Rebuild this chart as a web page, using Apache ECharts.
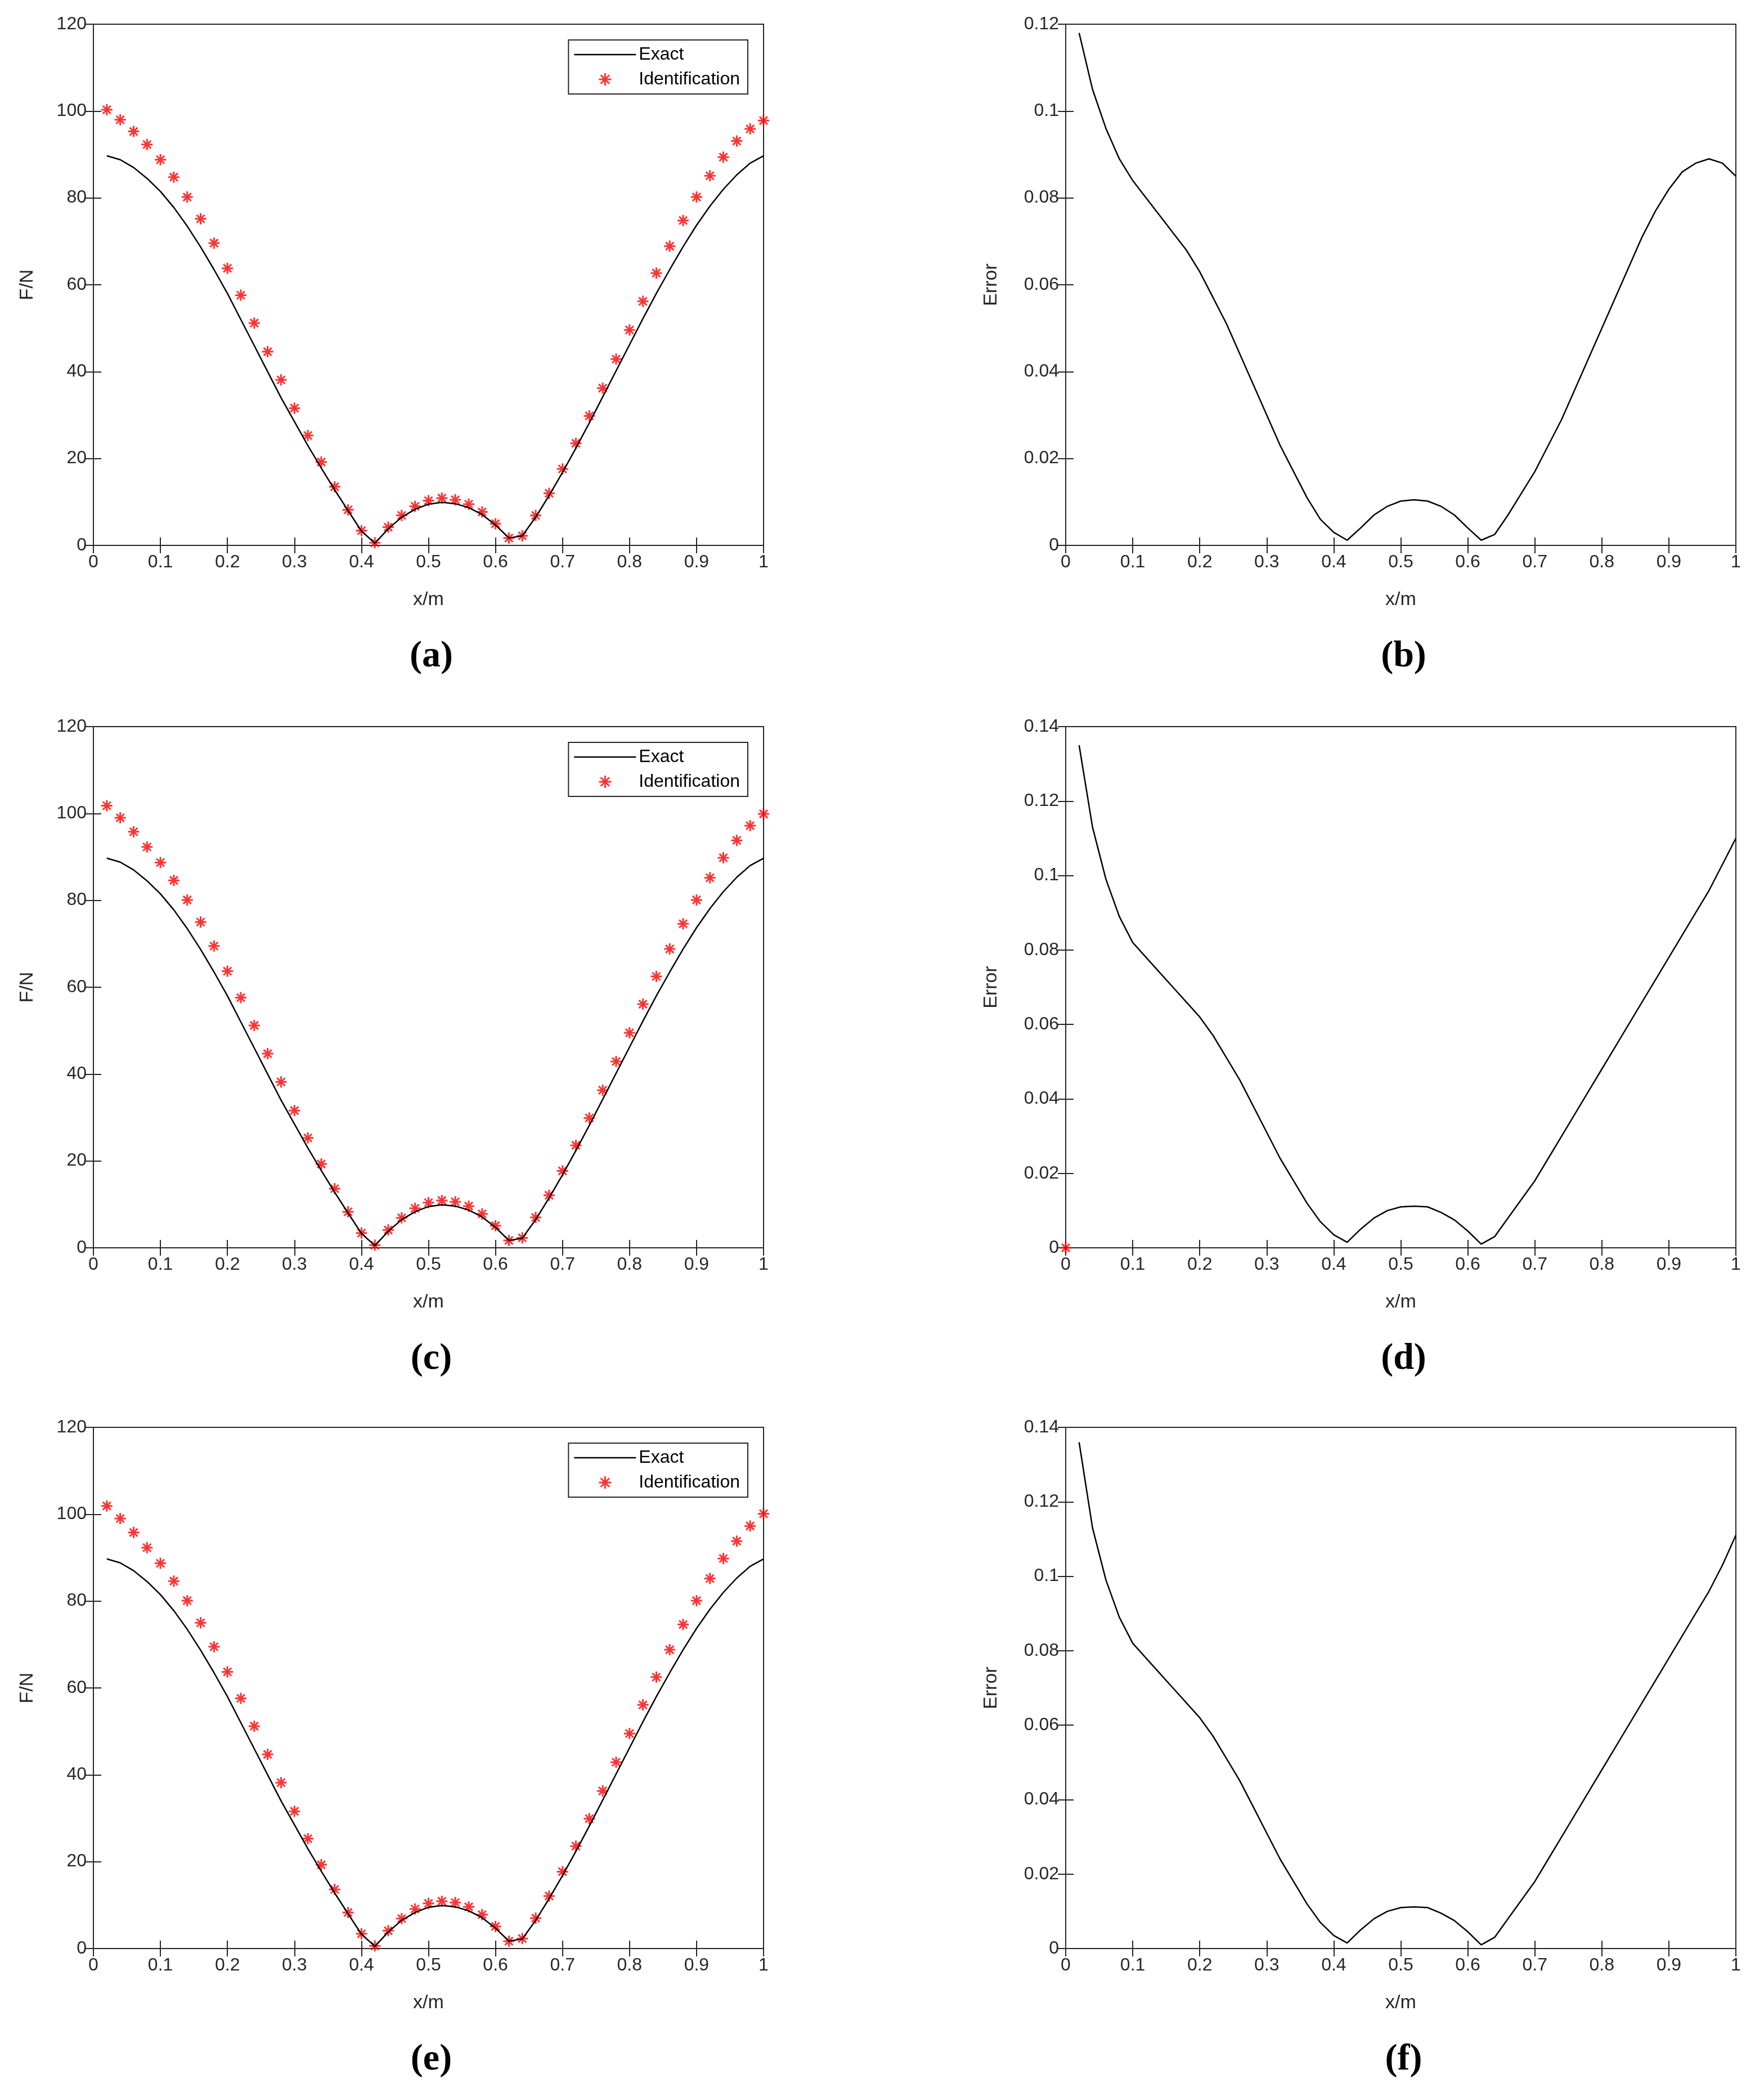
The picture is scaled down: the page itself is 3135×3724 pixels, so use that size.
<!DOCTYPE html>
<html style="height: 100%">
<head>
<meta charset="utf-8">
</head>
<body style="height: 100%; margin: 0; background: #fff">
<div id="container" style="width: 3135px; height: 3724px"></div>
<script type="text/javascript" src="https://cdn.jsdelivr.net/npm/echarts@6/dist/echarts.min.js"></script>
<script type="text/javascript">
// positions x = 0.02 ... 1.00
var xPos = [];
for (var i = 1; i <= 50; i++) xPos.push(+(i * 0.02).toFixed(2));

var exactF = [89.7, 88.8, 87, 84.5, 81.5, 77.8, 73.5, 68.7, 63.5, 58, 52, 46, 40, 34, 28.5, 23, 17.8, 12.8, 8, 3.3,
  0.5, 3.8, 6.5, 8.3, 9.5, 9.9, 9.6, 8.7, 7.1, 4.7, 1.7, 2.2, 6.5, 11.5, 16.8, 22.4, 28.2, 34.2, 40.2, 46.2,
  52.2, 58, 63.5, 68.8, 73.7, 78.1, 82, 85.3, 88, 89.7];

var identA = [100.3, 98, 95.3, 92.3, 88.8, 84.8, 80.2, 75.2, 69.6, 63.8, 57.6, 51.2, 44.6, 38.1, 31.6, 25.3, 19.2, 13.5, 8.2, 3.4,
  0.6, 4.2, 6.9, 9, 10.3, 10.9, 10.5, 9.5, 7.7, 5, 1.7, 2.2, 6.9, 12, 17.6, 23.5, 29.8, 36.2, 42.9, 49.6,
  56.2, 62.7, 68.9, 74.8, 80.2, 85.1, 89.4, 93.1, 95.9, 97.8];
var identC = [101.8, 99, 95.8, 92.3, 88.7, 84.6, 80.1, 75, 69.5, 63.7, 57.6, 51.2, 44.7, 38.2, 31.6, 25.3, 19.3, 13.6, 8.3, 3.4,
  0.6, 4.1, 6.9, 9.1, 10.4, 10.9, 10.6, 9.6, 7.8, 5.1, 1.7, 2.3, 7, 12.1, 17.7, 23.6, 29.9, 36.3, 42.9, 49.5,
  56.1, 62.5, 68.8, 74.6, 80.1, 85.2, 89.8, 93.8, 97.2, 99.9];
var identE = [101.9, 99, 95.8, 92.3, 88.7, 84.6, 80.1, 75, 69.5, 63.7, 57.6, 51.2, 44.7, 38.2, 31.6, 25.3, 19.3, 13.6, 8.3, 3.4,
  0.6, 4.1, 6.9, 9.1, 10.4, 10.9, 10.6, 9.6, 7.8, 5.1, 1.7, 2.3, 7, 12.1, 17.7, 23.6, 29.9, 36.3, 42.9, 49.5,
  56.1, 62.5, 68.8, 74.6, 80.1, 85.2, 89.8, 93.8, 97.3, 100.1];

var errB = [0.118, 0.105, 0.096, 0.089, 0.084, 0.080, 0.076, 0.072, 0.068, 0.063, 0.057, 0.051, 0.044, 0.037, 0.030, 0.023, 0.017, 0.011, 0.006, 0.003,
  0.0012, 0.004, 0.007, 0.009, 0.0102, 0.0105, 0.0102, 0.009, 0.007, 0.004, 0.0012, 0.0025, 0.007, 0.012, 0.017, 0.023, 0.029, 0.036, 0.043, 0.050,
  0.057, 0.064, 0.071, 0.077, 0.082, 0.086, 0.088, 0.089, 0.088, 0.085];
var errD = [0.135, 0.113, 0.099, 0.089, 0.082, 0.078, 0.074, 0.070, 0.066, 0.062, 0.057, 0.051, 0.045, 0.038, 0.031, 0.024, 0.018, 0.012, 0.007, 0.0035,
  0.0015, 0.005, 0.008, 0.010, 0.011, 0.0112, 0.011, 0.0095, 0.0075, 0.0045, 0.001, 0.003, 0.008, 0.013, 0.018, 0.024, 0.030, 0.036, 0.042, 0.048,
  0.054, 0.060, 0.066, 0.072, 0.078, 0.084, 0.090, 0.096, 0.103, 0.110];
var errF = [0.136, 0.113, 0.099, 0.089, 0.082, 0.078, 0.074, 0.070, 0.066, 0.062, 0.057, 0.051, 0.045, 0.038, 0.031, 0.024, 0.018, 0.012, 0.007, 0.0035,
  0.0015, 0.005, 0.008, 0.010, 0.011, 0.0112, 0.011, 0.0095, 0.0075, 0.0045, 0.001, 0.003, 0.008, 0.013, 0.018, 0.024, 0.030, 0.036, 0.042, 0.048,
  0.054, 0.060, 0.066, 0.072, 0.078, 0.084, 0.090, 0.096, 0.103, 0.111];

var panelLetters = ['a', 'b', 'c', 'd', 'e', 'f'];
var colLeft = [166, 1894], colW = 1191;
var rowTop = [43, 1291, 2536], rowH = 926;

var font = 'Liberation Sans';
var star = 'path://M0,-10L0,10M-10,0L10,0M-7,-7L7,7M-7,7L7,-7';

function pairs(ys) {
  return xPos.map(function (x, k) { return [x, ys[k]]; });
}

var grid = [], xAxis = [], yAxis = [], series = [], title = [], legend = [];
var panels = [
  {force: true, ident: identA, ymax: 120, yint: 20},
  {force: false, err: errB, ymax: 0.12, yint: 0.02},
  {force: true, ident: identC, ymax: 120, yint: 20},
  {force: false, err: errD, ymax: 0.14, yint: 0.02, zeroStar: true},
  {force: true, ident: identE, ymax: 120, yint: 20},
  {force: false, err: errF, ymax: 0.14, yint: 0.02}
];

panels.forEach(function (p, k) {
  var col = k % 2, row = Math.floor(k / 2);
  var left = colLeft[col], top = rowTop[row];
  grid.push({left: left, top: top, width: colW, height: rowH, show: true, borderColor: '#262626', borderWidth: 2, backgroundColor: '#fff'});
  var tick = {show: true, inside: true, length: 14, lineStyle: {color: '#262626', width: 2}};
  xAxis.push({type: 'value', gridIndex: k, min: 0, max: 1, interval: 0.1, position: 'bottom',
    name: 'x/m', nameLocation: 'middle', nameGap: 80, nameTextStyle: {fontFamily: font, fontSize: 34, color: '#262626'},
    axisLine: {show: false}, axisTick: tick, splitLine: {show: false},
    axisLabel: {fontFamily: font, fontSize: 32, color: '#262626', margin: 14}});
  xAxis.push({type: 'value', gridIndex: k, min: 0, max: 1, interval: 0.1, position: 'top',
    axisLine: {show: false}, axisTick: tick, splitLine: {show: false}, axisLabel: {show: false}});
  yAxis.push({type: 'value', gridIndex: k, min: 0, max: p.ymax, interval: p.yint, position: 'left',
    name: p.force ? 'F/N' : 'Error', nameLocation: 'middle', nameGap: p.force ? 100 : 115,
    nameTextStyle: {fontFamily: font, fontSize: 34, color: '#262626'},
    axisLine: {show: false}, axisTick: tick, splitLine: {show: false},
    axisLabel: {fontFamily: font, fontSize: 32, color: '#262626', margin: 12}});
  yAxis.push({type: 'value', gridIndex: k, min: 0, max: p.ymax, interval: p.yint, position: 'right',
    axisLine: {show: false}, axisTick: tick, splitLine: {show: false}, axisLabel: {show: false}});

  if (p.force) {
    series.push({name: 'Exact', type: 'line', xAxisIndex: 2 * k, yAxisIndex: 2 * k, data: pairs(exactF),
      showSymbol: false, symbol: 'none', lineStyle: {color: '#000', width: 2.5}, animation: false});
    series.push({name: 'Identification', type: 'scatter', xAxisIndex: 2 * k, yAxisIndex: 2 * k, data: pairs(p.ident),
      symbol: star, symbolSize: 20, itemStyle: {color: 'none', borderColor: '#ff0000', borderWidth: 3}, animation: false});
    legend.push({
      right: 3135 - (left + colW) + 28, top: top + 28,
      orient: 'vertical', itemGap: 12, itemWidth: 110, itemHeight: 22,
      backgroundColor: '#fff', borderColor: '#262626', borderWidth: 2, padding: [10, 14, 10, 10],
      textStyle: {fontFamily: font, fontSize: 32, color: '#000'},
      data: [
        {name: 'Exact', icon: 'path://M0,0L110,0L110,2.5L0,2.5Z', itemStyle: {color: '#000'}},
        {name: 'Identification', icon: star, itemStyle: {color: 'none', borderColor: '#ff0000', borderWidth: 3}}
      ]
    });
  } else {
    series.push({name: 'Error' + k, type: 'line', xAxisIndex: 2 * k, yAxisIndex: 2 * k, data: pairs(p.err),
      showSymbol: false, symbol: 'none', lineStyle: {color: '#000', width: 2.5}, animation: false});
    if (p.zeroStar) {
      series.push({name: 'Zero' + k, type: 'scatter', xAxisIndex: 2 * k, yAxisIndex: 2 * k, data: [[0, 0]],
        symbol: star, symbolSize: 20, itemStyle: {color: 'none', borderColor: '#ff0000', borderWidth: 3}, animation: false});
    }
  }

  title.push({
    text: '{p|(}{b|' + panelLetters[k] + '}{p|)}',
    left: left + colW / 2, top: top + rowH + 160, textAlign: 'center',
    textStyle: {rich: {
      p: {fontFamily: 'Liberation Serif', fontSize: 66, color: '#000'},
      b: {fontFamily: 'Liberation Serif', fontSize: 66, fontWeight: 'bold', color: '#000'}
    }}
  });
});

var dom = document.getElementById('container');
var myChart = echarts.init(dom);
myChart.setOption({
  backgroundColor: '#fff',
  animation: false,
  title: title,
  legend: legend,
  grid: grid,
  xAxis: xAxis,
  yAxis: yAxis,
  series: series
});
</script>
</body>
</html>
